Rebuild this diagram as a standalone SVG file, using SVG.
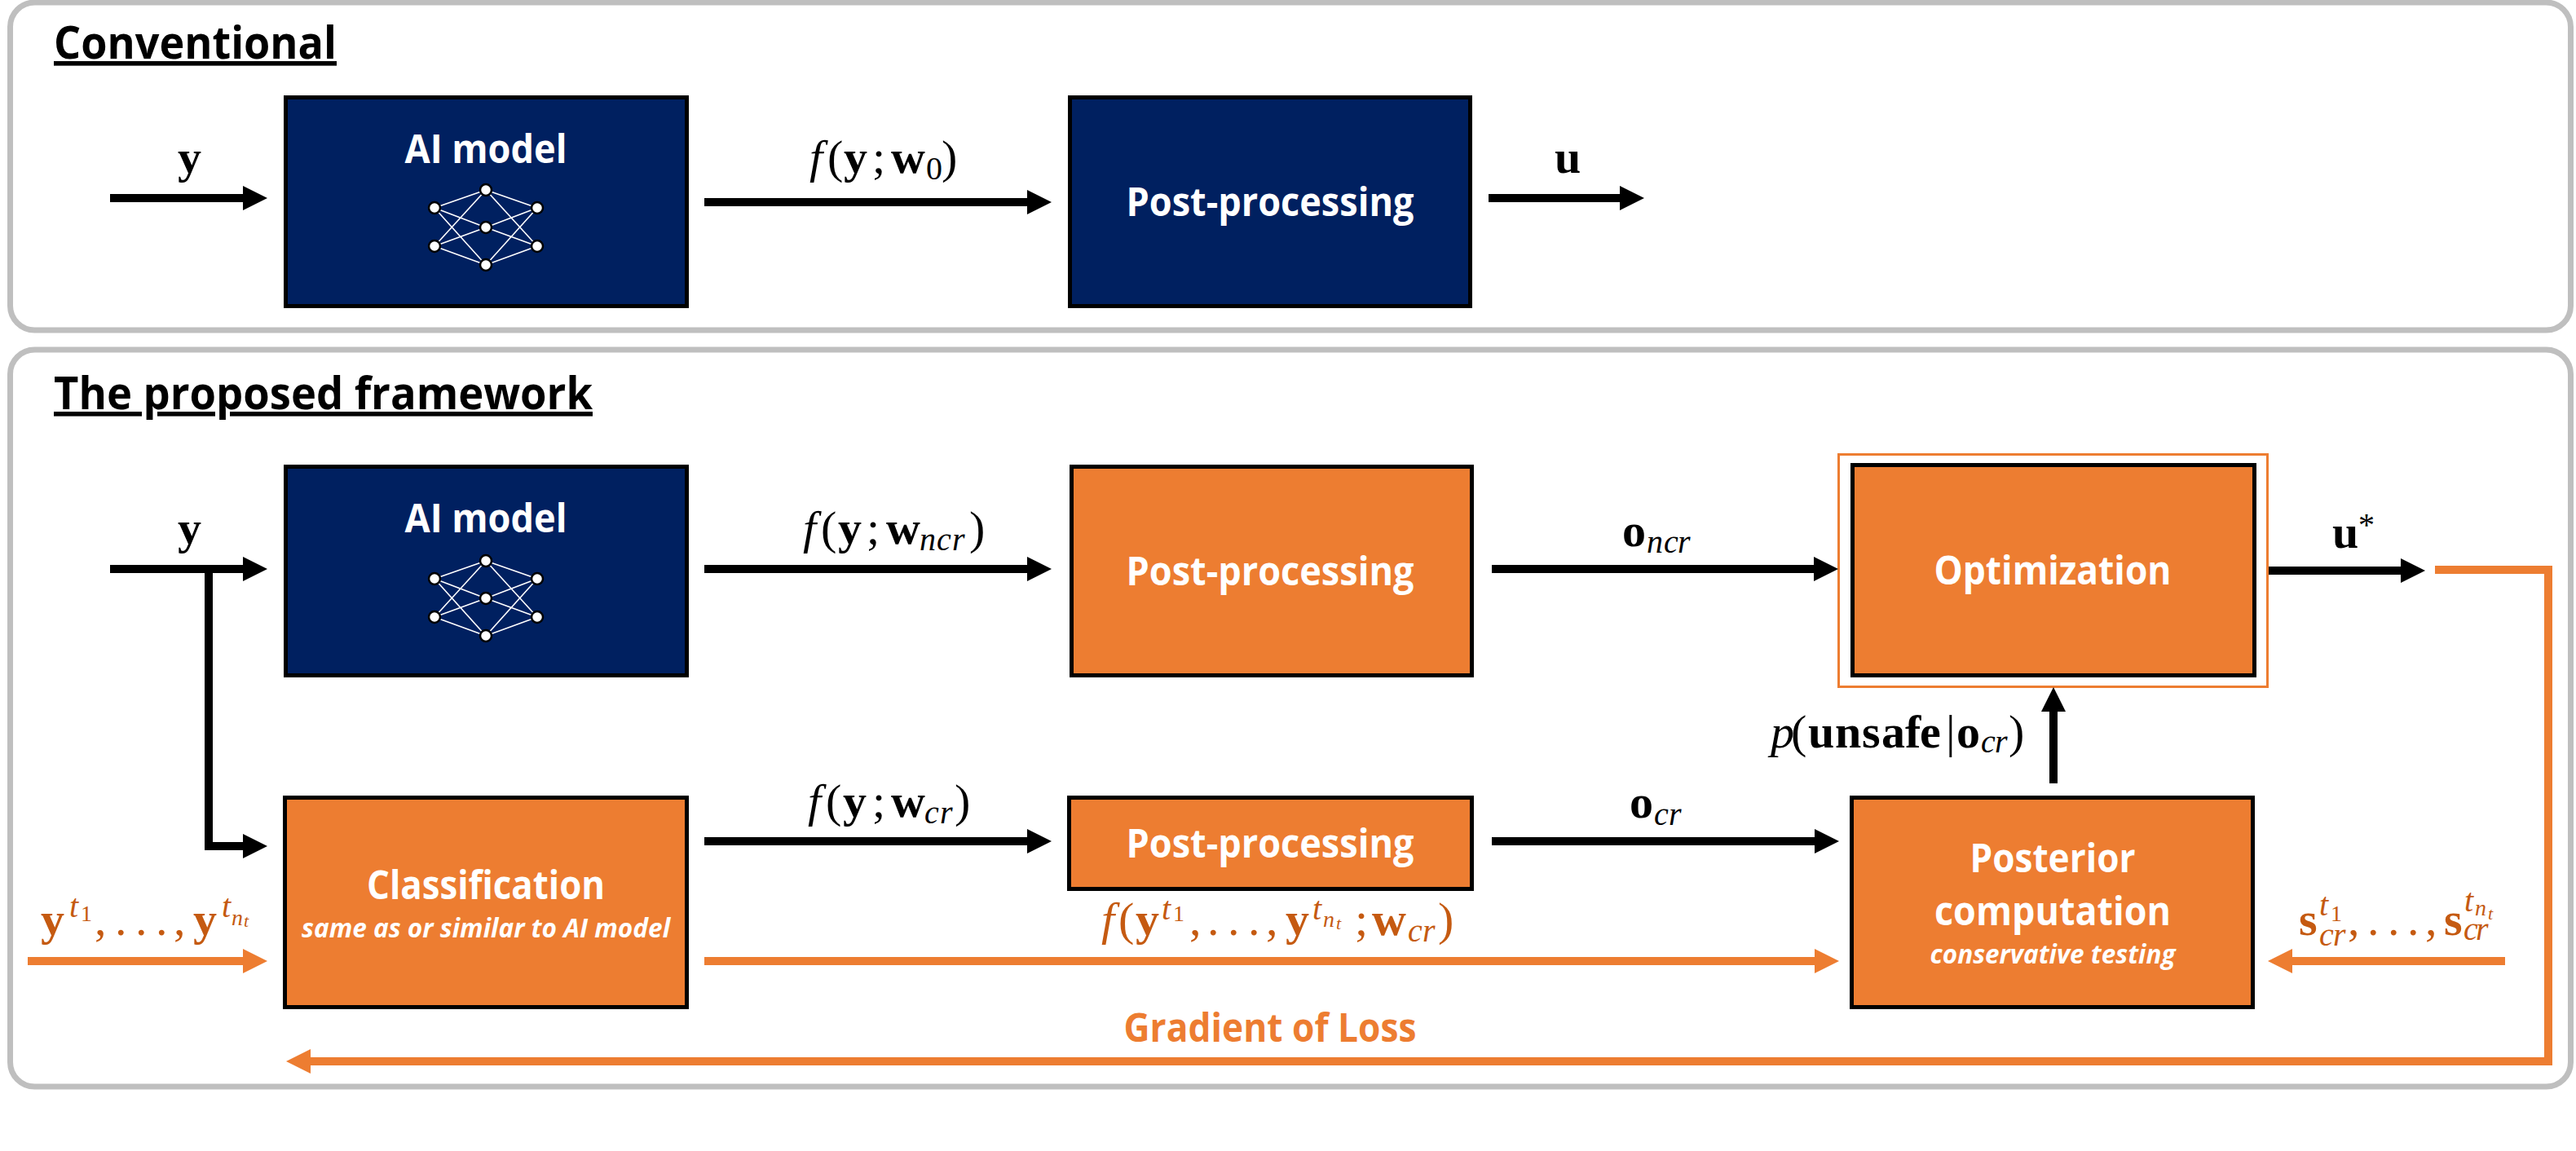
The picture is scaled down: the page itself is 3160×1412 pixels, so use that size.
<svg xmlns="http://www.w3.org/2000/svg" xmlns:xlink="http://www.w3.org/1999/xlink" width="3160" height="1412" viewBox="0 0 3160 1412">
<style>
.panel{fill:#fff;stroke:#bfbfbf;stroke-width:7}
.navy{fill:#002060;stroke:#000;stroke-width:5}
.or{fill:#ed7d31;stroke:#000;stroke-width:5}
.t{font-family:"Open Sans","Liberation Sans",sans-serif;font-weight:700;fill:#fff;text-anchor:middle;font-size:49px}
.sub{font-style:italic;font-size:33px}
.h{font-family:"Open Sans","Liberation Sans",sans-serif;font-weight:700;fill:#000;font-size:56px;text-decoration:underline}
.g{fill:#ed7d31}
.m{font-family:"Liberation Serif","Times New Roman",serif;font-size:58px;fill:#000}
.mo{fill:#c55a11}
.i{font-style:italic}.b{font-weight:700}
.s{font-size:40px}.ss{font-size:28px}.sss{font-size:22px}
.k{fill:none;stroke:#000;stroke-width:10}
.o{fill:none;stroke:#ed7d31;stroke-width:10}
.hk{fill:#000}.ho{fill:#ed7d31}
.nl{stroke:#fff;stroke-width:1.6;fill:none}
.nn{fill:#fff;stroke:#000;stroke-width:2.5}
</style>
<defs>
<g id="net">
<path class="nl" d="M-63-24L0-46M-63-24L0 0M-63-24L0 46M-63 23L0-46M-63 23L0 0M-63 23L0 46M63-24L0-46M63-24L0 0M63-24L0 46M63 23L0-46M63 23L0 0M63 23L0 46"/>
<circle class="nn" cx="-63" cy="-24" r="7"/><circle class="nn" cx="-63" cy="23" r="7"/>
<circle class="nn" cx="0" cy="-46" r="7"/><circle class="nn" cx="0" cy="0" r="7"/><circle class="nn" cx="0" cy="46" r="7"/>
<circle class="nn" cx="63" cy="-24" r="7"/><circle class="nn" cx="63" cy="23" r="7"/>
</g>
</defs>
<rect width="3160" height="1412" fill="#fff"/>
<g id="panel-conventional"><rect class="panel" x="12.500" y="3" width="3141" height="402" rx="30"/><text class="h" x="66" y="72" textLength="347" lengthAdjust="spacingAndGlyphs">Conventional</text></g>
<g id="panel-proposed"><rect class="panel" x="12.500" y="429" width="3141" height="904" rx="30"/><text class="h" x="66" y="502" textLength="661" lengthAdjust="spacingAndGlyphs">The proposed framework</text></g>

<g id="ai-model-1"><rect class="navy" x="350.500" y="119.500" width="492" height="256"/><text class="t" x="596" y="200" textLength="199" lengthAdjust="spacingAndGlyphs">AI model</text><use xlink:href="#net" x="596" y="279"/></g>
<g id="post-1"><rect class="navy" x="1312.500" y="119.500" width="491" height="256"/><text class="t" x="1558" y="265" textLength="353" lengthAdjust="spacingAndGlyphs">Post-processing</text></g>
<g id="ai-model-2"><rect class="navy" x="350.500" y="572.500" width="492" height="256"/><text class="t" x="596" y="653" textLength="199" lengthAdjust="spacingAndGlyphs">AI model</text><use xlink:href="#net" x="596" y="734"/></g>
<g id="post-2"><rect class="or" x="1314.500" y="572.500" width="491" height="256"/><text class="t" x="1558" y="718" textLength="353" lengthAdjust="spacingAndGlyphs">Post-processing</text></g>
<g id="optimization"><rect x="2255.500" y="557.500" width="526" height="285" fill="none" stroke="#ed7d31" stroke-width="3"/><rect class="or" x="2272.500" y="570.500" width="493" height="258"/><text class="t" x="2518" y="717" textLength="291" lengthAdjust="spacingAndGlyphs">Optimization</text></g>
<g id="classification"><rect class="or" x="349.500" y="978.500" width="493" height="257"/><text class="t" x="596" y="1103" textLength="292" lengthAdjust="spacingAndGlyphs">Classification</text><text class="t sub" x="596" y="1150" textLength="452" lengthAdjust="spacingAndGlyphs">same as or similar to AI model</text></g>
<g id="post-3"><rect class="or" x="1311.500" y="978.500" width="494" height="112"/><text class="t" x="1558" y="1052" textLength="353" lengthAdjust="spacingAndGlyphs">Post-processing</text></g>
<g id="posterior"><rect class="or" x="2271.500" y="978.500" width="492" height="257"/><text class="t" x="2518" y="1070" textLength="203" lengthAdjust="spacingAndGlyphs">Posterior</text><text class="t" x="2518" y="1135" textLength="290" lengthAdjust="spacingAndGlyphs">computation</text><text class="t sub" x="2518" y="1182" textLength="301" lengthAdjust="spacingAndGlyphs">conservative testing</text></g>
<text id="gradient-label" class="t g" x="1558" y="1278" textLength="359" lengthAdjust="spacingAndGlyphs">Gradient of Loss</text>

<g id="connectors">
<path class="k" d="M135 243H300"/><path class="hk" d="M298 228L328 243L298 258Z"/>
<path class="k" d="M864 248H1262"/><path class="hk" d="M1260 233L1290 248L1260 263Z"/>
<path class="k" d="M1826 243H1990"/><path class="hk" d="M1987 228L2017 243L1987 258Z"/>
<path class="k" d="M135 698H300"/><path class="hk" d="M298 683L328 698L298 713Z"/>
<path class="k" d="M864 698H1262"/><path class="hk" d="M1260 683L1290 698L1260 713Z"/>
<path class="k" d="M1830 698H2226"/><path class="hk" d="M2225 683L2255 698L2225 713Z"/>
<path class="k" d="M2783 700H2950"/><path class="hk" d="M2945 685L2975 700L2945 715Z"/>
<path class="k" d="M256 698V1038H300"/><path class="hk" d="M298 1023L328 1038L298 1053Z"/>
<path class="k" d="M864 1032H1262"/><path class="hk" d="M1260 1017L1290 1032L1260 1047Z"/>
<path class="k" d="M1830 1032H2228"/><path class="hk" d="M2226 1017L2256 1032L2226 1047Z"/>
<path class="k" d="M2519 961V871"/><path class="hk" d="M2504 873L2519 843L2534 873Z"/>
<path class="o" d="M34 1179H300"/><path class="ho" d="M298 1164L328 1179L298 1194Z"/>
<path class="o" d="M864 1179H2228"/><path class="ho" d="M2226 1164L2256 1179L2226 1194Z"/>
<path class="o" d="M3073 1179H2810"/><path class="ho" d="M2812 1164L2782 1179L2812 1194Z"/>
<path class="o" d="M2987 699H3126V1302H380"/><path class="ho" d="M381 1287L351 1302L381 1317Z"/>
</g>

<g id="labels">
<text class="m b" x="218" y="212">y</text>
<text class="m" y="212"><tspan class="i" x="993">f</tspan><tspan x="1015">(</tspan><tspan class="b" x="1035">y</tspan><tspan x="1070">;</tspan><tspan class="b" x="1093">w</tspan><tspan class="s" x="1136" y="220">0</tspan><tspan x="1155" y="212">)</tspan></text>
<text class="m b" x="1907" y="212">u</text>
<text class="m b" x="218" y="667">y</text>
<text class="m" y="667"><tspan class="i" x="985">f</tspan><tspan x="1007">(</tspan><tspan class="b" x="1028">y</tspan><tspan x="1063">;</tspan><tspan class="b" x="1087">w</tspan><tspan class="s i" x="1128 1149 1168" y="675">ncr</tspan><tspan x="1189" y="667">)</tspan></text>
<text class="m" y="670"><tspan class="b" x="1990">o</tspan><tspan class="s i" x="2020 2041 2058" y="678">ncr</tspan></text>
<text class="m" y="672"><tspan class="b" x="2861">u</tspan><tspan class="s" x="2893" y="657">*</tspan></text>
<text class="m" y="917"><tspan class="i" x="2172">p</tspan><tspan x="2197">(</tspan><tspan class="b" x="2218 2251 2284 2308 2337 2355">unsafe</tspan><tspan x="2387">|</tspan><tspan class="b" x="2400">o</tspan><tspan class="s i" x="2430 2447" y="923">cr</tspan><tspan x="2464" y="917">)</tspan></text>
<text class="m" y="1002"><tspan class="i" x="991">f</tspan><tspan x="1013">(</tspan><tspan class="b" x="1034">y</tspan><tspan x="1070">;</tspan><tspan class="b" x="1093">w</tspan><tspan class="s i" x="1134 1153" y="1010">cr</tspan><tspan x="1171" y="1002">)</tspan></text>
<text class="m" y="1003"><tspan class="b" x="1999">o</tspan><tspan class="s i" x="2029 2047" y="1012">cr</tspan></text>
<text class="m mo" y="1147"><tspan class="b" x="50">y</tspan><tspan class="s i" x="85" y="1125">t</tspan><tspan class="ss" x="99" y="1130">1</tspan><tspan x="116 141 166 191 213" y="1147">,...,</tspan><tspan class="b" x="237">y</tspan><tspan class="s i" x="272" y="1125">t</tspan><tspan class="ss i" x="284" y="1135">n</tspan><tspan class="sss i" x="299" y="1137">t</tspan></text>
<text class="m mo" y="1147"><tspan class="i" x="1351">f</tspan><tspan x="1372">(</tspan><tspan class="b" x="1393">y</tspan><tspan class="s i" x="1425" y="1128">t</tspan><tspan class="ss" x="1439" y="1130">1</tspan><tspan x="1459 1481 1506 1531 1553" y="1147">,...,</tspan><tspan class="b" x="1577">y</tspan><tspan class="s i" x="1610" y="1128">t</tspan><tspan class="ss i" x="1623" y="1137">n</tspan><tspan class="sss i" x="1639" y="1140">t</tspan><tspan x="1662" y="1147">;</tspan><tspan class="b" x="1683">w</tspan><tspan class="s i" x="1727 1745" y="1155">cr</tspan><tspan x="1764" y="1147">)</tspan></text>
<text class="m mo" y="1147"><tspan class="b" x="2820">s</tspan><tspan class="s i" x="2845" y="1123">t</tspan><tspan class="ss" x="2859" y="1130">1</tspan><tspan class="s i" x="2845 2862" y="1160">cr</tspan><tspan x="2880 2904 2929 2953 2975" y="1147">,...,</tspan><tspan class="b" x="2998">s</tspan><tspan class="s i" x="3023" y="1118">t</tspan><tspan class="ss i" x="3036" y="1123">n</tspan><tspan class="sss i" x="3052" y="1128">t</tspan><tspan class="s i" x="3022 3037" y="1153">cr</tspan></text>
</g>
</svg>
